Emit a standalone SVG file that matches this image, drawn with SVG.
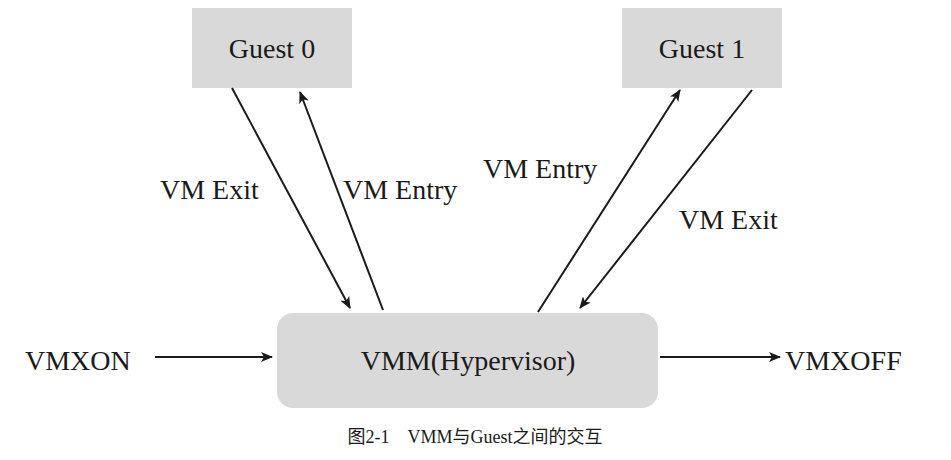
<svg xmlns="http://www.w3.org/2000/svg" width="951" height="460" viewBox="0 0 951 460">
<style>
text{font-family:"Liberation Serif","Noto Sans CJK SC",serif;fill:#1a1a1a;font-size:28px}
.box{fill:#d9d9d9}
.c{text-anchor:middle}
line{stroke:#1a1a1a;stroke-width:2;marker-end:url(#a)}
</style>
<defs><marker id="a" viewBox="0 0 12 10" refX="11" refY="5" markerWidth="12" markerHeight="10" markerUnits="userSpaceOnUse" orient="auto"><path d="M0,0 L12,5 L0,10 L3,5 Z" fill="#1a1a1a"/></marker></defs>
<rect width="951" height="460" fill="#fff"/>
<g id="guest0"><rect class="box" x="192" y="8" width="160" height="80"/><text class="c" x="272" y="58">Guest 0</text></g>
<g id="guest1"><rect class="box" x="622" y="8" width="160" height="80"/><text class="c" x="702" y="58">Guest 1</text></g>
<g id="vmm"><rect class="box" x="277" y="313" width="381" height="95" rx="16"/><text class="c" x="468" y="370">VMM(Hypervisor)</text></g>
<g id="vmxon"><text x="25" y="370">VMXON</text></g>
<g id="vmxoff"><text x="785" y="370">VMXOFF</text></g>
<g id="connectors">
<line x1="232" y1="88" x2="350" y2="308"/>
<line x1="383" y1="310" x2="300" y2="92"/>
<line x1="538" y1="312" x2="680" y2="90"/>
<line x1="752" y1="90" x2="580" y2="308"/>
<line x1="155" y1="357" x2="272" y2="357"/>
<line x1="660" y1="357" x2="780" y2="357"/>
<text x="160" y="199">VM Exit</text>
<text x="343" y="199">VM Entry</text>
<text x="483" y="178">VM Entry</text>
<text x="679" y="229">VM Exit</text>
</g>
<text class="c" x="475" y="443" style="font-size:18px">图2-1　VMM与Guest之间的交互</text>
</svg>
